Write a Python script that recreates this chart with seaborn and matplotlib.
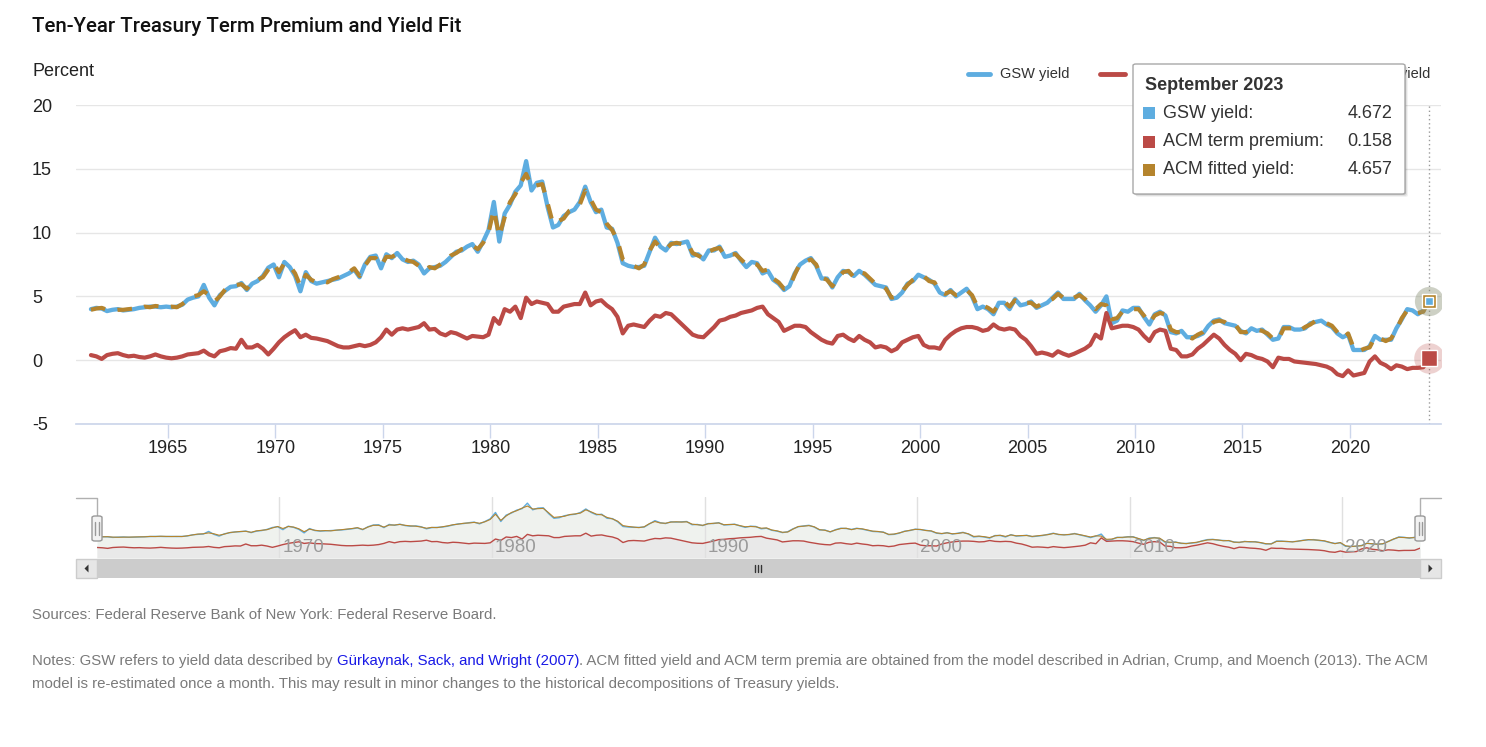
import pandas as pd
import numpy as np
import matplotlib
matplotlib.use('Agg')
import matplotlib.pyplot as plt
import matplotlib.dates as mdates
import matplotlib.transforms as mtransforms
from matplotlib.patches import FancyBboxPatch, Rectangle, Polygon
from matplotlib.lines import Line2D
import seaborn as sns

# quarterly readings (Mar/Jun/Sep/Dec), Jun 1961 .. Sep 2023
gsw_yield = [
    4.0, 4.1, 4.05,
    3.85, 3.95, 4.0, 3.9,   3.95, 4.0, 4.1, 4.15,   4.2, 4.2, 4.15, 4.2,
    4.15, 4.2, 4.35, 4.75,  4.9, 5.0, 5.9, 4.9,     4.3, 5.1, 5.45, 5.75,
    5.8, 6.05, 5.5, 6.0,    6.2, 6.6, 7.25, 7.5,    6.5, 7.7, 7.3, 6.6,
    5.4, 6.9, 6.2, 6.0,     6.1, 6.2, 6.3, 6.4,     6.6, 6.8, 7.1, 6.5,
    7.5, 8.1, 8.2, 7.2,     8.3, 8.0, 8.4, 7.9,     7.7, 7.8, 7.5, 6.8,
    7.2, 7.3, 7.4, 7.7,     8.1, 8.5, 8.6, 8.9,     9.1, 8.5, 9.3, 10.2,
    12.4, 9.3, 11.5, 12.2,  13.2, 13.7, 15.6, 13.3, 13.9, 14.0, 12.0, 10.4,
    10.6, 11.3, 11.6, 11.8, 12.4, 13.6, 12.4, 11.6, 11.8, 10.4, 10.3, 9.2,
    7.6, 7.4, 7.3, 7.3,     7.4, 8.5, 9.6, 8.9,     8.6, 9.2, 9.1, 9.2,
    9.3, 8.2, 8.3, 7.9,     8.6, 8.6, 8.9, 8.1,     8.2, 8.4, 7.8, 7.3,
    7.7, 7.6, 6.8, 7.0,     6.3, 6.0, 5.5, 5.8,     6.8, 7.5, 7.8, 8.0,
    7.4, 6.4, 6.4, 5.7,     6.5, 7.0, 6.9, 6.6,     7.0, 6.7, 6.3, 5.9,
    5.8, 5.7, 4.8, 4.9,     5.3, 6.0, 6.2, 6.7,     6.5, 6.3, 6.0, 5.3,
    5.1, 5.5, 5.0, 5.3,     5.6, 5.0, 4.0, 4.2,     4.0, 3.6, 4.5, 4.5,
    4.0, 4.8, 4.3, 4.4,     4.6, 4.1, 4.3, 4.5,     4.9, 5.3, 4.8, 4.8,
    4.8, 5.2, 4.7, 4.3,     3.8, 4.3, 5.0, 2.9,     3.1, 3.9, 3.8, 4.1,
    4.1, 3.4, 2.8, 3.6,     3.8, 3.5, 2.2, 2.1,     2.3, 1.8, 1.8, 1.9,
    2.1, 2.7, 3.1, 3.2,     2.9, 2.8, 2.7, 2.3,     2.1, 2.5, 2.3, 2.4,
    2.0, 1.6, 1.7, 2.6,     2.6, 2.4, 2.4, 2.5,     2.9, 3.0, 3.1, 2.8,
    2.6, 2.1, 1.8, 2.0,     0.8, 0.8, 0.8, 1.1,     1.9, 1.6, 1.6, 1.6,
    2.5, 3.2, 4.0, 3.9,
    3.6, 3.9, 4.672,
]
acm_term_premium = [
    0.4, 0.3, 0.1,
    0.4, 0.5, 0.55, 0.4,    0.3, 0.35, 0.25, 0.2,   0.3, 0.45, 0.3, 0.2,
    0.15, 0.2, 0.3, 0.45,   0.5, 0.55, 0.75, 0.45,  0.3, 0.7, 0.8, 0.95,
    0.9, 1.6, 1.0, 1.0,     1.2, 0.9, 0.45, 0.9,    1.4, 1.8, 2.1, 2.35,
    1.8, 2.0, 1.75, 1.7,    1.6, 1.5, 1.3, 1.1,     1.0, 1.0, 1.1, 1.2,
    1.1, 1.2, 1.4, 1.8,     2.4, 2.0, 2.4, 2.5,     2.4, 2.5, 2.6, 2.9,
    2.4, 2.45, 2.1, 1.95,   2.2, 2.1, 1.9, 1.7,     1.9, 1.85, 1.8, 2.0,
    3.3, 2.85, 4.0, 3.8,    4.2, 3.3, 4.9, 4.4,     4.6, 4.5, 4.4, 3.8,
    3.8, 4.2, 4.3, 4.4,     4.4, 5.3, 4.3, 4.6,     4.7, 4.3, 4.0, 3.4,
    2.1, 2.7, 2.8, 2.7,     2.6, 3.1, 3.5, 3.4,     3.7, 3.6, 3.2, 2.8,
    2.4, 2.0, 1.85, 1.8,    2.2, 2.6, 3.1, 3.2,     3.4, 3.5, 3.7, 3.8,
    3.9, 4.1, 4.2, 3.6,     3.3, 3.0, 2.3, 2.5,     2.7, 2.7, 2.6, 2.2,
    1.9, 1.6, 1.4, 1.3,     1.9, 2.0, 1.7, 1.5,     1.9, 1.6, 1.4, 1.0,
    1.1, 1.0, 0.7, 0.9,     1.4, 1.6, 1.8, 1.9,     1.2, 1.0, 1.0, 0.9,
    1.6, 2.0, 2.3, 2.5,     2.6, 2.6, 2.5, 2.3,     2.4, 2.8, 2.5, 2.4,
    2.5, 2.4, 1.9, 1.6,     1.1, 0.5, 0.6, 0.5,     0.35, 0.7, 0.5, 0.35,
    0.5, 0.7, 0.9, 1.2,     2.0, 1.7, 3.7, 2.5,     2.6, 2.7, 2.7, 2.6,
    2.4, 1.9, 1.5, 2.2,     2.4, 2.3, 0.9, 0.8,     0.3, 0.3, 0.45, 0.9,
    1.2, 1.6, 2.0, 1.7,     1.2, 0.8, 0.5, 0.0,     0.5, 0.4, 0.2, 0.1,
    -0.1, -0.55, 0.2, 0.1,  0.1, -0.1, -0.15, -0.2, -0.25, -0.3, -0.4, -0.5,
    -0.7, -1.1, -1.25, -0.8, -1.2, -1.1, -1.0, -0.1, 0.3, -0.2, -0.4, -0.7,
    -0.4, -0.5, -0.7, -0.6,
    -0.6, -0.55, 0.158,
]
acm_fitted_yield = [
    3.95, 4.05, 4.1,
    3.95, 3.9, 3.95, 3.95,  4.0, 4.05, 4.05, 4.2,   4.15, 4.25, 4.2, 4.15,
    4.2, 4.15, 4.4, 4.7,    5.0, 5.1, 5.4, 5.1,     4.6, 5.0, 5.55, 5.7,
    5.9, 5.95, 5.6, 6.1,    6.3, 6.5, 7.1, 7.6,     6.9, 7.6, 7.4, 6.8,
    5.8, 6.7, 6.3, 6.1,     6.2, 6.1, 6.35, 6.5,    6.7, 6.9, 7.2, 6.6,
    7.4, 8.0, 8.0, 7.4,     8.1, 8.1, 8.3, 8.0,     7.8, 7.7, 7.4, 7.0,
    7.3, 7.2, 7.5, 7.8,     8.2, 8.4, 8.7, 8.8,     9.0, 8.7, 9.2, 10.0,
    11.8, 9.7, 11.2, 12.4,  13.0, 13.9, 14.6, 13.6, 13.7, 13.8, 12.3, 10.7,
    10.9, 11.1, 11.7, 11.9, 12.2, 13.3, 12.6, 11.8, 11.6, 10.7, 10.2, 9.4,
    7.9, 7.6, 7.4, 7.2,     7.5, 8.6, 9.3, 8.8,     8.7, 9.1, 9.2, 9.1,
    9.2, 8.4, 8.2, 8.0,     8.5, 8.7, 8.8, 8.2,     8.3, 8.3, 7.9, 7.5,
    7.6, 7.5, 7.0, 7.1,     6.4, 6.1, 5.6, 5.7,     6.7, 7.6, 7.7, 7.9,
    7.5, 6.5, 6.3, 5.8,     6.4, 6.9, 7.0, 6.5,     6.9, 6.8, 6.4, 6.0,
    5.9, 5.6, 4.9, 5.0,     5.4, 5.9, 6.3, 6.6,     6.6, 6.2, 6.1, 5.4,
    5.2, 5.4, 5.1, 5.2,     5.5, 5.1, 4.2, 4.3,     4.1, 3.8, 4.4, 4.6,
    4.2, 4.7, 4.4, 4.5,     4.5, 4.2, 4.4, 4.6,     4.8, 5.2, 4.9, 4.7,
    4.9, 5.1, 4.8, 4.4,     4.0, 4.4, 4.3, 3.2,     3.3, 3.8, 3.9, 4.0,
    4.0, 3.5, 2.9, 3.5,     3.7, 3.6, 2.4, 2.2,     2.2, 1.9, 1.7, 2.0,
    2.2, 2.6, 3.0, 3.1,     3.0, 2.7, 2.8, 2.2,     2.2, 2.4, 2.4, 2.3,
    2.1, 1.7, 1.6, 2.5,     2.5, 2.5, 2.3, 2.6,     2.8, 3.1, 3.0, 2.9,
    2.7, 2.2, 1.7, 2.1,     1.0, 0.7, 0.9, 1.0,     1.8, 1.7, 1.5, 1.7,
    2.4, 3.3, 3.9, 3.8,
    3.7, 3.8, 4.657,
]
dates = pd.date_range('1961-06-01', '2023-09-01', freq='3MS')
y_ticks = [-5, 0, 5, 10, 15, 20]
nav_decades = [1970, 1980, 1990, 2000, 2010, 2020]
tooltip_rows = [('GSW yield:', '4.672'), ('ACM term premium:', '0.158'), ('ACM fitted yield:', '4.657')]

df = pd.DataFrame({'date': dates, 'gsw': gsw_yield, 'tp': acm_term_premium, 'fit': acm_fitted_yield})

BLUE = '#5EADE0'
RED = '#BB4A46'
BROWN = '#B5842D'
GRAY = '#7a7a7a'

sns.set_theme(style='white')
plt.rcParams['font.family'] = ['Liberation Sans', 'DejaVu Sans']
plt.rcParams['axes.unicode_minus'] = False

W, H = 1486, 747
fig = plt.figure(figsize=(W / 100, H / 100), dpi=100)
fig.patch.set_facecolor('white')

def fx(x):
    return x / W

def fy(y):
    return 1 - y / H

# main chart
ax = fig.add_axes([fx(76), fy(424), (1441 - 76) / W, (424 - 105) / H])
sns.lineplot(data=df, x='date', y='gsw', color=BLUE, linewidth=3.1, ax=ax, legend=False)
sns.lineplot(data=df, x='date', y='tp', color=RED, linewidth=3.0, ax=ax, legend=False)
sns.lineplot(data=df, x='date', y='fit', color=BROWN, linewidth=3.0, linestyle=(0, (3.5, 3)), ax=ax, legend=False)
ax.set_xlabel('')
ax.set_ylabel('')
ax.set_ylim(-5, 20)
ax.set_yticks(y_ticks)
ax.set_xlim(pd.Timestamp('1960-09-20'), pd.Timestamp('2024-03-28'))
ax.xaxis.set_major_locator(mdates.YearLocator(5))
ax.xaxis.set_major_formatter(mdates.DateFormatter('%Y'))
ax.grid(axis='y', color='#e6e6e6', linewidth=1)
ax.grid(axis='x', visible=False)
for s in ['top', 'right', 'left']:
    ax.spines[s].set_visible(False)
ax.spines['bottom'].set_color('#ccd6eb')
ax.tick_params(axis='x', length=10, width=1, color='#ccd6eb', pad=1.5, labelsize=13, labelcolor='#222222', bottom=True)
ax.tick_params(axis='y', length=0, pad=31.7, labelsize=13, labelcolor='#222222')
for lbl in ax.get_yticklabels():
    lbl.set_horizontalalignment('left')

# hover crosshair and markers at the last point
last = dates[-1]
ax.axvline(last, color='#9a9a9a', linewidth=1, linestyle=(0, (1, 2)), zorder=1)
ax.plot([last], [gsw_yield[-1]], 'o', ms=21, color=BLUE, alpha=0.25, mew=0, zorder=5)
ax.plot([last], [acm_fitted_yield[-1]], 'o', ms=21, color=BROWN, alpha=0.25, mew=0, zorder=5)
ax.plot([last], [acm_term_premium[-1]], 'o', ms=22, color=RED, alpha=0.25, mew=0, zorder=5)
ax.plot([last], [acm_fitted_yield[-1]], 's', ms=10, mfc=BROWN, mec='white', mew=1, zorder=6)
ax.plot([last], [gsw_yield[-1]], 's', ms=6, mfc=BLUE, mec='white', mew=1, zorder=7)
ax.plot([last], [acm_term_premium[-1]], 's', ms=12, mfc=RED, mec='white', mew=1, zorder=6)

# navigator
nav_bottom = -3.2
nav = fig.add_axes([fx(97), fy(558), (1420 - 97) / W, (558 - 497) / H])
nav.set_xlim(dates[0], dates[-1])
nav.set_ylim(nav_bottom, 17.7)
nav.fill_between(df['date'], df['gsw'], nav_bottom, color='#eff2ee', linewidth=0)
nav.fill_between(df['date'], df['tp'], nav_bottom, color='#e9e9e9', linewidth=0)
for yr in nav_decades:
    nav.axvline(pd.Timestamp(f'{yr}-01-01'), color='#e0e0e0', linewidth=1, zorder=1)
sns.lineplot(data=df, x='date', y='gsw', color=BLUE, linewidth=1, ax=nav, legend=False)
sns.lineplot(data=df, x='date', y='fit', color=BROWN, linewidth=0.8, ax=nav, legend=False)
sns.lineplot(data=df, x='date', y='tp', color=RED, linewidth=1, ax=nav, legend=False)
nav.set_xlabel('')
nav.set_ylabel('')
nav.set_xticks([])
nav.set_yticks([])
for s in nav.spines.values():
    s.set_visible(False)
nav.patch.set_alpha(0)
lab_tr = mtransforms.offset_copy(nav.get_xaxis_transform(), fig=fig, x=3, y=0, units='dots')
for yr in nav_decades:
    nav.text(pd.Timestamp(f'{yr}-01-01'), 0.18, str(yr), transform=lab_tr, ha='left', va='center',
             fontsize=13.5, color='#9a9a9a')

def fig_line(xs, ys, **kw):
    fig.add_artist(Line2D([fx(x) for x in xs], [fy(y) for y in ys], transform=fig.transFigure, **kw))

def fig_rect(x0, y0, x1, y1, **kw):
    fig.add_artist(Rectangle((fx(x0), fy(y1)), (x1 - x0) / W, (y1 - y0) / H, transform=fig.transFigure, **kw))

# navigator outline and handles
fig_line([76, 97, 97], [497.5, 497.5, 516], color='#b0b0b0', linewidth=1)
fig_line([1441, 1420, 1420], [497.5, 497.5, 516], color='#b0b0b0', linewidth=1)
for hx in [97, 1420]:
    fig.add_artist(FancyBboxPatch((fx(hx - 5), fy(541)), 10 / W, 25 / H, boxstyle='round,pad=0,rounding_size=0.002',
                                  transform=fig.transFigure, fc='#f2f2f2', ec='#999999', lw=1, zorder=5))
    fig_line([hx - 1.5, hx - 1.5], [522, 535], color='#999999', linewidth=1, zorder=6)
    fig_line([hx + 1.5, hx + 1.5], [522, 535], color='#999999', linewidth=1, zorder=6)

# scrollbar
fig_rect(76, 559, 1441, 578, fc='#f2f2f2', ec='none')
fig_rect(97, 559, 1420, 578, fc='#cccccc', ec='none')
fig_rect(76, 559, 97, 578, fc='#e6e6e6', ec='#cccccc', lw=1)
fig_rect(1420, 559, 1441, 578, fc='#e6e6e6', ec='#cccccc', lw=1)
fig.add_artist(Polygon([(fx(84.5), fy(568.5)), (fx(88.5), fy(564.5)), (fx(88.5), fy(572.5))],
                       closed=True, transform=fig.transFigure, fc='#333333', ec='none'))
fig.add_artist(Polygon([(fx(1432.5), fy(568.5)), (fx(1428.5), fy(564.5)), (fx(1428.5), fy(572.5))],
                       closed=True, transform=fig.transFigure, fc='#333333', ec='none'))
for gx in [754.5, 757.5, 760.5]:
    fig_line([gx, gx], [565, 572], color='#333333', linewidth=1)

# title and axis caption
fig.text(fx(32), fy(27), 'Ten-Year Treasury Term Premium and Yield Fit', fontsize=14.8, fontweight='medium',
         family=['Roboto', 'DejaVu Sans'], color='#111111', va='center', ha='left')
fig.text(fx(32), fy(71), 'Percent', fontsize=13, color='#222222', va='center', ha='left')

# legend (the middle label sits fully behind the tooltip, so only its line shows)
fig_line([968, 990], [74, 74], color=BLUE, linewidth=3.5)
fig.text(fx(1000), fy(74), 'GSW yield', fontsize=10.5, color='#333333', va='center')
fig_line([1100, 1125], [74, 74], color=RED, linewidth=3.5)
fig_line([1296, 1318], [74, 74], color=BROWN, linewidth=3.5)
fig.text(fx(1430), fy(74), 'ACM fitted yield', fontsize=10.5, color='#333333', va='center', ha='right')

# tooltip
for k, a in [(3, 0.05), (2, 0.08), (1, 0.12)]:
    fig.add_artist(FancyBboxPatch((fx(1133 + k), fy(194 + k)), (1405 - 1133) / W, (194 - 64) / H,
                                  boxstyle='round,pad=0,rounding_size=0.002', transform=fig.transFigure,
                                  fc='black', ec='none', alpha=a, zorder=19))
fig.add_artist(FancyBboxPatch((fx(1133), fy(194)), (1405 - 1133) / W, (194 - 64) / H,
                              boxstyle='round,pad=0,rounding_size=0.002', transform=fig.transFigure,
                              fc='white', ec='#a8a8a8', lw=1, zorder=20))
fig.text(fx(1145), fy(86), 'September 2023', fontsize=13, fontweight='bold', color='#333333',
         va='center', zorder=21)
for (lab, val), yy, col in zip(tooltip_rows, [113, 142, 170], [BLUE, RED, BROWN]):
    fig.add_artist(Rectangle((fx(1143), fy(yy + 6)), 12 / W, 12 / H, transform=fig.transFigure,
                             fc=col, ec='none', zorder=21))
    fig.text(fx(1163), fy(yy), lab, fontsize=13, color='#333333', va='center', zorder=21)
    fig.text(fx(1392), fy(yy), val, fontsize=13, color='#333333', va='center', ha='right', zorder=21)

# sources and notes
fig.text(fx(32), fy(615), 'Sources: Federal Reserve Bank of New York: Federal Reserve Board.',
         fontsize=10.8, color=GRAY, va='center')
renderer = fig.canvas.get_renderer()
t1 = fig.text(fx(32), fy(661), 'Notes: GSW refers to yield data described by ', fontsize=10.8, color=GRAY, va='center')
x1 = t1.get_window_extent(renderer).x1
t2 = fig.text(x1 / fig.bbox.width, fy(661), 'Gürkaynak, Sack, and Wright (2007)', fontsize=10.8,
              color='#1a1ae6', va='center')
x2 = t2.get_window_extent(renderer).x1
fig.text(x2 / fig.bbox.width, fy(661), '. ACM fitted yield and ACM term premia are obtained from the model '
         'described in Adrian, Crump, and Moench (2013). The ACM', fontsize=10.8, color=GRAY, va='center')
fig.text(fx(32), fy(684), 'model is re-estimated once a month. This may result in minor changes to the '
         'historical decompositions of Treasury yields.', fontsize=10.8, color=GRAY, va='center')

fig.savefig('out.png', dpi=100, facecolor='white')
